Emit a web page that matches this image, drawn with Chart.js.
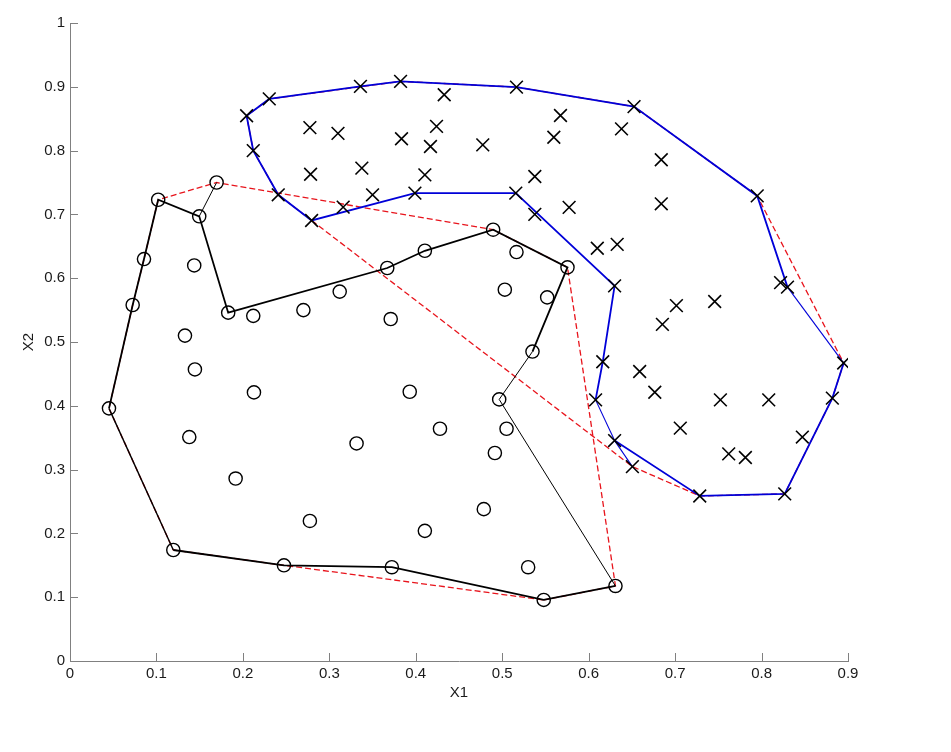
<!DOCTYPE html>
<html>
<head>
<meta charset="utf-8">
<script src="https://cdn.jsdelivr.net/npm/chart.js@4.4.1/dist/chart.umd.min.js"></script>
<style>
  html, body { margin: 0; padding: 0; background: #ffffff; }
  #wrap { width: 951px; height: 752px; }
</style>
</head>
<body>
<div id="wrap"><canvas id="c" width="951" height="752"></canvas></div>
<script>
// ---- Data ----
const xTickLabels = ['0', '0.1', '0.2', '0.3', '0.4', '0.5', '0.6', '0.7', '0.8', '0.9'];
const yTickLabels = ['0', '0.1', '0.2', '0.3', '0.4', '0.5', '0.6', '0.7', '0.8', '0.9', '1'];
const xAxisTitle = 'X1';
const yAxisTitle = 'X2';

// Class 1 (circles)
const circleX = [0.102, 0.1495, 0.1696, 0.0856, 0.0725, 0.1437, 0.133, 0.183, 0.212, 0.270,
                 0.312, 0.367, 0.371, 0.4105, 0.4895, 0.5165, 0.5755, 0.503, 0.552, 0.535,
                 0.0451, 0.1445, 0.2128, 0.393, 0.138, 0.428, 0.3315, 0.1916, 0.2775, 0.4105,
                 0.1195, 0.2475, 0.3723, 0.4965, 0.505, 0.4915, 0.4787, 0.530, 0.548, 0.631];
const circleY = [0.723, 0.697, 0.750, 0.630, 0.558, 0.620, 0.510, 0.546, 0.541, 0.550,
                 0.579, 0.616, 0.536, 0.643, 0.676, 0.641, 0.617, 0.582, 0.570, 0.485,
                 0.396, 0.457, 0.421, 0.422, 0.351, 0.364, 0.341, 0.286, 0.2195, 0.204,
                 0.174, 0.150, 0.147, 0.410, 0.364, 0.326, 0.238, 0.147, 0.0957, 0.1176];

// Class 2 (crosses)
const crossX = [0.2043, 0.2305, 0.336, 0.3824, 0.4329, 0.212, 0.2775, 0.310, 0.3835, 0.424,
                0.417, 0.2783, 0.3376, 0.4105, 0.2409, 0.350, 0.399, 0.316, 0.2795, 0.4775,
                0.5165, 0.6525, 0.795, 0.5674, 0.638, 0.5597, 0.684, 0.5377, 0.684, 0.5157,
                0.5774, 0.5377, 0.610, 0.633, 0.630, 0.7015, 0.7458, 0.6853, 0.822, 0.830,
                0.6163, 0.895, 0.659, 0.6765, 0.608, 0.7524, 0.8083, 0.8819, 0.706, 0.8472,
                0.630, 0.762, 0.7813, 0.6506, 0.7285, 0.8268];
const crossY = [0.8546, 0.881, 0.9006, 0.9085, 0.8876, 0.800, 0.836, 0.827, 0.8186, 0.838,
                0.8065, 0.763, 0.7726, 0.762, 0.7307, 0.7307, 0.7334, 0.7114, 0.6905, 0.809,
                0.8995, 0.869, 0.729, 0.855, 0.834, 0.821, 0.7856, 0.7594, 0.7166, 0.7334,
                0.711, 0.700, 0.647, 0.653, 0.588, 0.557, 0.5635, 0.5277, 0.593, 0.586,
                0.469, 0.467, 0.4537, 0.4213, 0.4093, 0.4093, 0.4093, 0.412, 0.365, 0.351,
                0.3455, 0.3246, 0.319, 0.3047, 0.2587, 0.2619];

// Boundaries (indices into the point lists)
const circleBoundary = [30, 20, 4, 3, 0, 1, 7, 11, 13, 14, 16, 19, 33, 39, 38, 32, 31, 30];
const circleBoundaryThin = [11, 12];          // thin segments
const circleBranch = [1, 2];
const circleHull = [38, 39, 16, 14, 2, 0, 3, 4, 20, 30, 31, 38];

const crossBoundary = [0, 1, 2, 3, 20, 21, 22, 39, 41, 47, 55, 54, 50, 44, 40, 34, 29, 16, 18, 14, 5, 0];
const crossBoundaryThin = [7, 12];
const crossBranch = [50, 53];
const crossHull = [18, 53, 54, 55, 47, 41, 22, 21, 20, 3, 1, 0, 5, 14, 18];

// ---- Build datasets ----
const toPts = (xs, ys) => xs.map((x, i) => ({ x: x, y: ys[i] }));
const pathPts = (idx, xs, ys) => idx.map(i => ({ x: xs[i], y: ys[i] }));

const FONT = "'Liberation Sans', Arial, Helvetica, sans-serif";
const AXIS_GREY = '#808080';
const TEXT = '#1a1a1a';

const lineBase = { showLine: true, pointRadius: 0, pointHoverRadius: 0, fill: false, tension: 0 };

const datasets = [
  Object.assign({}, lineBase, {
    label: 'hull1', data: pathPts(circleHull, circleX, circleY),
    borderColor: '#e8141c', borderWidth: 1.3, borderDash: [6, 3], order: 5
  }),
  Object.assign({}, lineBase, {
    label: 'hull2', data: pathPts(crossHull, crossX, crossY),
    borderColor: '#e8141c', borderWidth: 1.3, borderDash: [6, 3], order: 5
  }),
  Object.assign({}, lineBase, {
    label: 'bound1', data: pathPts(circleBoundary, circleX, circleY),
    borderColor: '#000000', borderWidth: 1.8, order: 3,
    segment: { borderWidth: ctx => circleBoundaryThin.includes(ctx.p0DataIndex) ? 1 : (ctx.p0DataIndex === 0 ? 1.4 : 1.8) }
  }),
  Object.assign({}, lineBase, {
    label: 'branch1', data: pathPts(circleBranch, circleX, circleY),
    borderColor: '#000000', borderWidth: 1, order: 3
  }),
  Object.assign({}, lineBase, {
    label: 'bound2', data: pathPts(crossBoundary, crossX, crossY),
    borderColor: '#0000d8', borderWidth: 1.8, order: 3,
    segment: { borderWidth: ctx => crossBoundaryThin.includes(ctx.p0DataIndex) ? 1.1 : 1.8 }
  }),
  Object.assign({}, lineBase, {
    label: 'branch2', data: pathPts(crossBranch, crossX, crossY),
    borderColor: '#0000d8', borderWidth: 1.1, order: 3
  }),
  {
    label: 'class1', data: toPts(circleX, circleY), showLine: false,
    pointStyle: 'circle', pointRadius: 6.6, pointBorderWidth: 1.4,
    pointBorderColor: '#000000', pointBackgroundColor: 'rgba(0,0,0,0)', order: 1
  },
  {
    label: 'class2', data: toPts(crossX, crossY), showLine: false,
    pointStyle: 'crossRot', pointRadius: 9, pointBorderWidth: 1.6,
    pointBorderColor: '#000000', pointBackgroundColor: '#000000', order: 1
  }
];

const inwardTicks = {
  id: 'inwardTicks',
  afterDraw(chart) {
    const { ctx, chartArea } = chart;
    const xs = chart.scales.x, ys = chart.scales.y;
    ctx.save();
    ctx.strokeStyle = AXIS_GREY;
    ctx.lineWidth = 1;
    xs.ticks.forEach((t, i) => {
      const px = Math.round(xs.getPixelForTick(i)) + 0.5;
      ctx.beginPath();
      ctx.moveTo(px, chartArea.bottom);
      ctx.lineTo(px, chartArea.bottom - 8);
      ctx.stroke();
    });
    ys.ticks.forEach((t, i) => {
      const py = Math.round(ys.getPixelForTick(i)) + 0.5;
      ctx.beginPath();
      ctx.moveTo(chartArea.left, py);
      ctx.lineTo(chartArea.left + 8, py);
      ctx.stroke();
    });
    ctx.restore();
  }
};

new Chart(document.getElementById('c'), {
  type: 'scatter',
  data: { datasets: datasets },
  plugins: [inwardTicks],
  options: {
    responsive: false,
    devicePixelRatio: 1,
    animation: false,
    layout: { padding: { left: 10, right: 103, top: 23, bottom: 42 } },
    plugins: { legend: { display: false }, tooltip: { enabled: false } },
    scales: {
      x: {
        type: 'linear', min: 0, max: 0.9,
        afterFit: s => { s.height = 49; },
        grid: { display: false, drawTicks: false },
        border: { display: true, color: AXIS_GREY, width: 1 },
        ticks: {
          stepSize: 0.1, padding: 4, color: TEXT, maxRotation: 0, autoSkip: false,
          font: { family: FONT, size: 15 },
          callback: v => xTickLabels[Math.round(v * 10)]
        },
        title: { display: true, text: xAxisTitle, color: TEXT, font: { family: FONT, size: 15 }, padding: { top: 0, bottom: 8 } }
      },
      y: {
        type: 'linear', min: 0, max: 1,
        afterFit: s => { s.width = 60; },
        grid: { display: false, drawTicks: false },
        border: { display: true, color: AXIS_GREY, width: 1 },
        ticks: {
          stepSize: 0.1, padding: 5, color: TEXT, autoSkip: false,
          font: { family: FONT, size: 15 },
          callback: v => yTickLabels[Math.round(v * 10)]
        },
        title: { display: true, text: yAxisTitle, color: TEXT, font: { family: FONT, size: 15 }, padding: { top: 10, bottom: 0 } }
      }
    }
  }
});
</script>
</body>
</html>
